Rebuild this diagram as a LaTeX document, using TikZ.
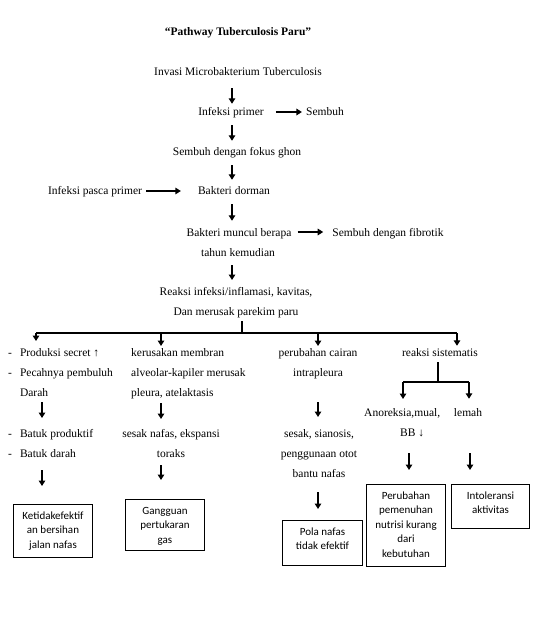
\documentclass[tikz,border=0pt]{standalone}
\usepackage{fontspec}
\setmainfont{Liberation Serif}
\newfontfamily\boxfont{Carlito}
\usetikzlibrary{arrows.meta}
\tikzset{
  txt/.style={inner sep=0pt, text height=14pt, text depth=6pt, font=\fontsize{11.5}{20}\selectfont},
  blk/.style={inner sep=0pt, font=\fontsize{11.5}{20}\selectfont},
  arr/.style={line width=1.7pt, -{Triangle[length=5.5pt,width=6.5pt]}},
  chain/.style={arr, shorten <=3pt, shorten >=1pt},
  barline/.style={line width=1.7pt},
  outbox/.style={draw, line width=1pt, inner sep=0pt, font=\boxfont\fontsize{11}{14.5}\selectfont},
}
\newcommand{\boxtext}[3]{\parbox[t][#2][t]{#1}{\centering\rule{0pt}{14.5pt}#3}}
\begin{document}
\begin{tikzpicture}[x=1pt,y=-1pt]
\useasboundingbox (0,0) rectangle (540,628);
% title and main chain
\node[txt, font=\bfseries\fontsize{11.5}{20}\selectfont] (title) at (238,32) {“Pathway Tuberculosis Paru”};
\node[txt] (inv) at (238,72) {Invasi Microbakterium Tuberculosis};
\node[txt] (ip) at (231,112) {Infeksi primer};
\node[txt] (sem1) at (325,112) {Sembuh};
\node[txt] (sf) at (237,152) {Sembuh dengan fokus ghon};
\node[txt] (ipp) at (95,191) {Infeksi pasca primer};
\node[txt] (bd) at (234,191) {Bakteri dorman};
\node[txt] (bm1) at (239,232) {Bakteri muncul berapa};
\node[txt] (bm2) at (238,252) {tahun kemudian};
\node[txt] (sfib) at (388,232) {Sembuh dengan fibrotik};
\node[blk, anchor=north] (rk) at (236,281) {\begin{tabular}{@{}c@{}}Reaksi infeksi/inflamasi, kavitas,\\ Dan merusak parekim paru\end{tabular}};

\coordinate (ax) at (232,0);
\draw[arr, shorten <=6pt, shorten >=-2pt] (inv.south -| ax) -- (ip.north -| ax);
\draw[chain] (ip.south -| ax) -- (sf.north -| ax);
\draw[chain] (sf.south -| ax) -- (bd.north -| ax);
\draw[chain] (bd.south -| ax) -- (bm1.north -| ax);
\draw[chain] (bm2.south -| ax) -- (rk.north -| ax);
\draw[arr, shorten <=12pt, shorten >=4pt] (ip.east) -- (sem1.west);
\draw[arr, shorten <=4pt, shorten >=17pt] (ipp.east) -- (bd.west);
\draw[arr, shorten <=6pt, shorten >=9pt] (bm1.east) -- (sfib.west);

% branching bar
\coordinate (bt) at (242,333);
\coordinate (b1) at (36,333);
\coordinate (b2) at (161,333);
\coordinate (b3) at (318,333);
\coordinate (b4) at (457,333);
\draw[barline] (rk.south -| bt) -- (bt);
\draw[barline] (b1) -- (b4);

% column 1
\node[blk, anchor=north west] (c1a) at (8,342) {\begin{tabular}{@{}l@{\hspace{8pt}}l@{}}-&Produksi secret ↑\\ -&Pecahnya pembuluh\\ &Darah\end{tabular}};
\node[blk, anchor=north west] (c1b) at (8,423) {\begin{tabular}{@{}l@{\hspace{8pt}}l@{}}-&Batuk produktif\\ -&Batuk darah\end{tabular}};
\node[outbox, anchor=north west] (o1) at (13,504) {\boxtext{79pt}{53pt}{Ketidakefektif\\an bersihan\\jalan nafas}};
\coordinate (x1) at (42,0);
\draw[arr, shorten >=1pt] (b1) -- (c1a.north -| b1);
\draw[arr, shorten >=5pt] (c1a.south -| x1) -- (c1b.north -| x1);
\draw[arr, shorten <=7pt, shorten >=18pt] (c1b.south -| x1) -- (o1.north -| x1);

% column 2
\node[blk, anchor=north west] (c2a) at (131,342) {\begin{tabular}{@{}l@{}}kerusakan membran\\ alveolar-kapiler merusak\\ pleura, atelaktasis\end{tabular}};
\node[blk, anchor=north] (c2b) at (171,423) {\begin{tabular}{@{}c@{}}sesak nafas, ekspansi\\ toraks\end{tabular}};
\node[outbox, anchor=north west] (o2) at (125,499) {\boxtext{79pt}{51pt}{Gangguan\\pertukaran\\gas}};
\draw[arr, shorten >=-4pt] (b2) -- (c2a.north -| b2);
\draw[arr, shorten <=1pt, shorten >=4pt] (c2a.south -| b2) -- (c2b.north -| b2);
\draw[arr, shorten <=2pt, shorten >=19pt] (c2b.south -| b2) -- (o2.north -| b2);

% column 3
\node[blk, anchor=north] (c3a) at (318,342) {\begin{tabular}{@{}c@{}}perubahan cairan\\ intrapleura\end{tabular}};
\node[blk, anchor=north] (c3b) at (319,423) {\begin{tabular}{@{}c@{}}sesak, sianosis,\\ penggunaan otot\\ bantu nafas\end{tabular}};
\node[outbox, anchor=north west] (o3) at (282,520) {\boxtext{80pt}{45pt}{Pola nafas\\tidak efektif}};
\draw[arr, shorten >=-4pt] (b3) -- (c3a.north -| b3);
\draw[arr, shorten <=20pt, shorten >=6pt] (c3a.south -| b3) -- (c3b.north -| b3);
\draw[arr, shorten <=9pt, shorten >=11pt] (c3b.south -| b3) -- (o3.north -| b3);

% column 4
\node[txt] (c4) at (440,352) {reaksi sistematis};
\draw[arr, shorten >=-4pt] (b4) -- (c4.north -| b4);
\coordinate (t4) at (438,382);
\coordinate (l4) at (403,382);
\coordinate (r4) at (469,382);
\draw[barline] (c4.south -| t4) -- (t4);
\draw[barline] (l4) -- (r4);
\node[blk, anchor=north west] (anor) at (364,402) {\begin{tabular}{@{}l@{}}Anoreksia,mual,\\ \hspace*{36pt}BB ↓\end{tabular}};
\node[txt] (lemah) at (468,412) {lemah};
\draw[arr, shorten >=3pt] (l4) -- (anor.north -| l4);
\draw[arr, shorten >=3pt] (r4) -- (lemah.north -| r4);
\node[outbox, anchor=north west] (o4) at (366,484) {\boxtext{79pt}{82pt}{Perubahan\\pemenuhan\\nutrisi kurang\\dari\\kebutuhan}};
\node[outbox, anchor=north west] (o5) at (451,484) {\boxtext{78pt}{44pt}{Intoleransi\\aktivitas}};
\coordinate (x4) at (409,0);
\coordinate (x5) at (470,0);
\draw[arr, shorten <=11pt, shorten >=14pt] (anor.south -| x4) -- (o4.north -| x4);
\draw[arr, shorten <=31pt, shorten >=14pt] (lemah.south -| x5) -- (o5.north -| x5);
\end{tikzpicture}
\end{document}
